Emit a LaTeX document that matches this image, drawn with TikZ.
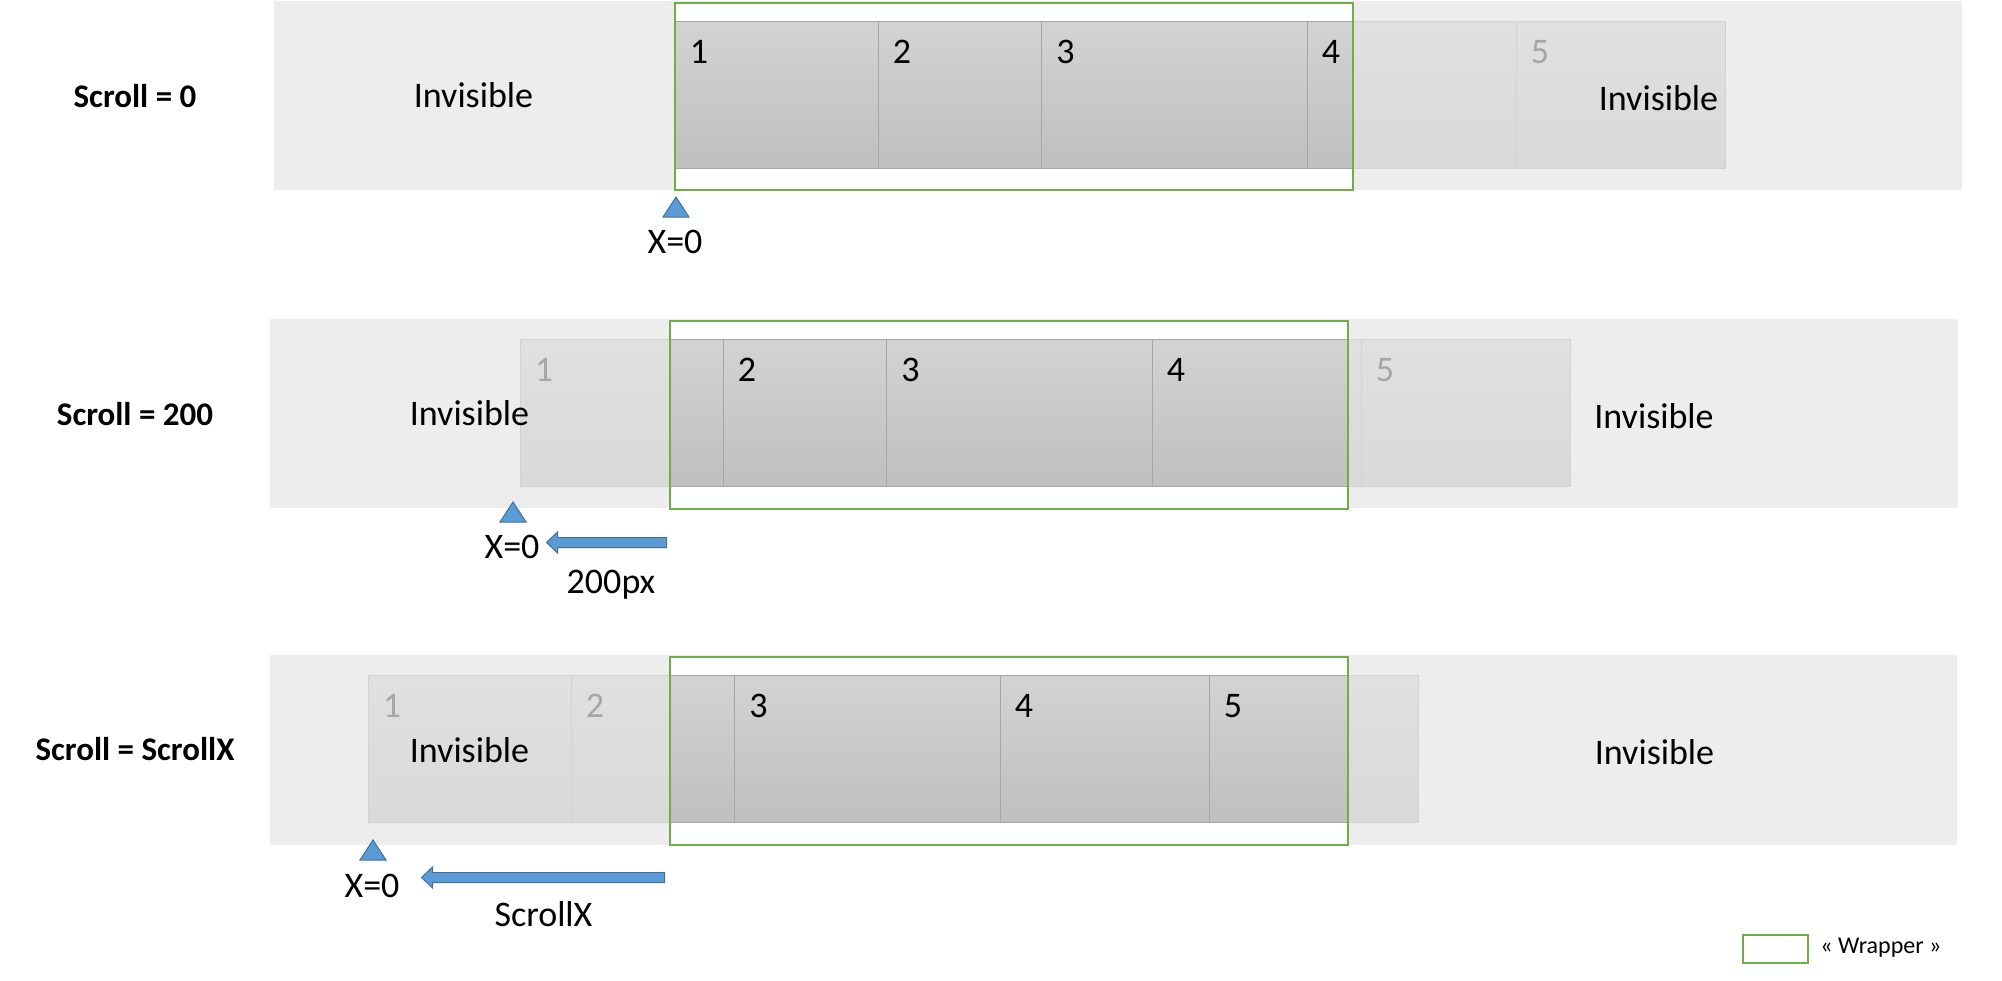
\documentclass[tikz,border=0pt]{standalone}
\usepackage{fontspec}
\setmainfont{Carlito}
\usetikzlibrary{shadings,calc}
\definecolor{bgc}{HTML}{EDEDED}
\definecolor{wrapc}{HTML}{70AD47}
\definecolor{bluef}{HTML}{5B9BD5}
\definecolor{blued}{HTML}{41719C}
\definecolor{darktop}{HTML}{D3D3D3}
\definecolor{darkbot}{HTML}{BFBFBF}
\definecolor{darkline}{HTML}{A6A6A6}
\definecolor{lighttop}{HTML}{E0E0E0}
\definecolor{lightbot}{HTML}{D9D9D9}
\definecolor{lightline}{HTML}{D2D2D2}
\definecolor{lightnum}{HTML}{A6A6A6}
\tikzset{
  bgbox/.style={fill=bgc},
  wrapfill/.style={fill=white},
  wrapline/.style={draw=wrapc, line width=1pt},
  darkitem/.style={draw=darkline, line width=0.5pt, top color=darktop, bottom color=darkbot},
  lightitem/.style={draw=lightline, line width=0.5pt, top color=lighttop, bottom color=lightbot},
  darknum/.style={text=black},
  lightnum/.style={text=lightnum},
  numtext/.style={font=\fontsize{18}{21}\selectfont, anchor=base west, inner sep=0pt},
  bigtext/.style={font=\fontsize{18}{21}\selectfont, anchor=base, inner sep=0pt},
  rowlbl/.style={font=\bfseries\fontsize{16.5}{19}\selectfont, anchor=base, inner sep=0pt},
  legtext/.style={font=\fontsize{12}{14}\selectfont, anchor=base west, inner sep=0pt},
  marker/.style={fill=bluef, draw=blued, line width=0.5pt, line join=miter},
}
% #1 name prefix, #2 shift, #3 top, #4 dark/light
\newcommand{\itemrow}[4]{%
  \foreach \a/\b/\n in {675/878/1,878/1041.5/2,1041.5/1307/3,1307/1516/4,1516/1725/5}{%
    \draw[#4item] (\a-#2,#3) rectangle (\b-#2,#3+147);
    \node[numtext, #4num] (#1n\n) at (\a-#2+14.5,#3+42) {\n};
  }%
}
% #1 tail x, #2 tip x, #3 y
\newcommand{\blockarrow}[3]{%
  \draw[marker] (#2,#3) -- (#2+11,#3-10.5) -- (#2+11,#3-5) -- (#1,#3-5)
    -- (#1,#3+5) -- (#2+11,#3+5) -- (#2+11,#3+10.5) -- cycle;
}
\newcommand{\marktri}[2]{%
  \draw[marker] (#1-13,#2+20) -- (#1,#2) -- (#1+13,#2+20) -- cycle;
}
\begin{document}
\begin{tikzpicture}[x=0.5pt,y=-0.5pt]
\useasboundingbox (0,0) rectangle (2002,980);

% ---------------- Row 1 : Scroll = 0
\fill[bgbox] (274,1) rectangle (1962,190);
\fill[wrapfill] (675,2.5) rectangle (1353,190);
\itemrow{a}{0}{21}{light}
\begin{scope}
  \clip (675,2.5) rectangle (1353,190);
  \itemrow{ad}{0}{21}{dark}
\end{scope}
\draw[wrapline] (675,2.5) rectangle (1353,190);
\node[rowlbl] (lbl1) at (135,107) {Scroll = 0};
\node[bigtext] (inv1l) at (473.5,107) {Invisible};
\node[bigtext] (inv1r) at (1658.5,110) {Invisible};
\marktri{676}{197}
\node[bigtext] (x01) at (675,253) {X=0};

% ---------------- Row 2 : Scroll = 200
\fill[bgbox] (270,319) rectangle (1958,508);
\fill[wrapfill] (669.5,320.5) rectangle (1348,508.5);
\itemrow{b}{155}{339.5}{light}
\begin{scope}
  \clip (669.5,320.5) rectangle (1348,508.5);
  \itemrow{bd}{155}{339.5}{dark}
\end{scope}
\draw[wrapline] (669.5,320.5) rectangle (1348,508.5);
\node[rowlbl] (lbl2) at (135,425) {Scroll = 200};
\node[bigtext] (inv2l) at (469.5,425) {Invisible};
\node[bigtext] (inv2r) at (1654,428) {Invisible};
\marktri{513}{502}
\node[bigtext] (x02) at (512,558) {X=0};
\blockarrow{666.5}{546.5}{542.5}
\node[bigtext] (px200) at (611,593) {200px};

% ---------------- Row 3 : Scroll = ScrollX
\fill[bgbox] (270,655) rectangle (1957,845);
\fill[wrapfill] (670,656.5) rectangle (1348,844.5);
\itemrow{c}{307}{675.5}{light}
\begin{scope}
  \clip (670,656.5) rectangle (1348,844.5);
  \itemrow{cd}{307}{675.5}{dark}
\end{scope}
\draw[wrapline] (670,656.5) rectangle (1348,844.5);
\node[rowlbl] (lbl3) at (135,760.5) {Scroll = ScrollX};
\node[bigtext] (inv3l) at (469.5,762) {Invisible};
\node[bigtext] (inv3r) at (1654.5,764) {Invisible};
\marktri{373}{840}
\node[bigtext] (x03) at (372,897) {X=0};
\blockarrow{664.5}{421.5}{877.5}
\node[bigtext] (scx) at (543.5,926.5) {ScrollX};

% ---------------- Legend
\draw[wrapline] (1743,934.5) rectangle (1808,962.5);
\node[legtext] (leg) at (1820,953) {« Wrapper »};
\end{tikzpicture}
\end{document}
